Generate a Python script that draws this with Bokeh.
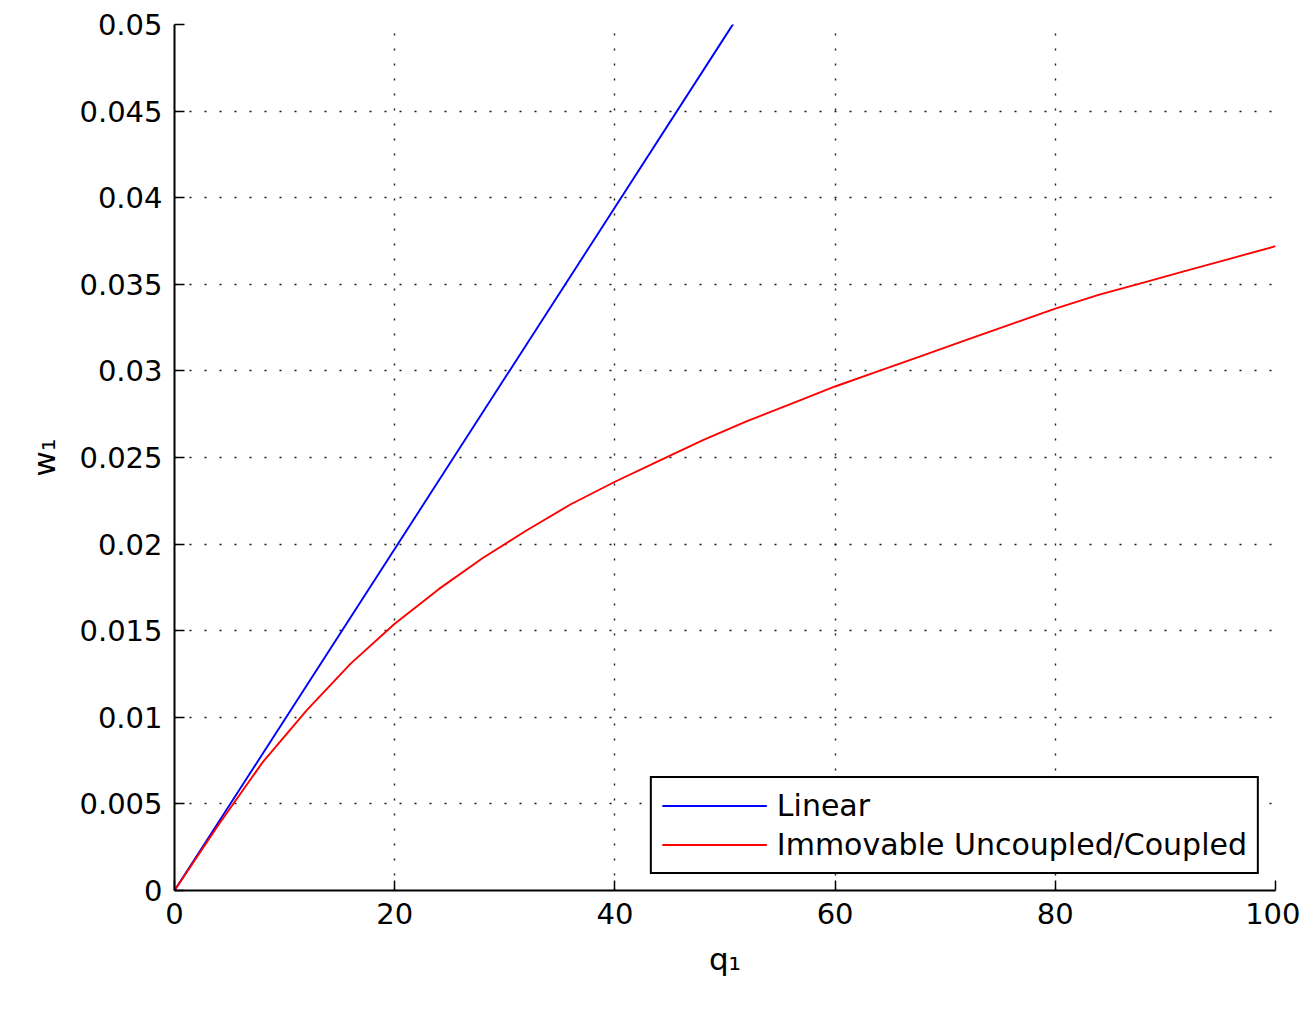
from bokeh.plotting import figure
from bokeh.models import FixedTicker, Range1d, Legend, LegendItem
from bokeh.embed import file_html
from bokeh.resources import INLINE

# ---- data ----
q_linear = [0, 25, 50, 75, 100]
w_linear = [0.0, 0.02465, 0.0493, 0.07395, 0.0986]

q_immovable = [0, 4, 8, 12, 16, 20, 24, 28, 32, 36, 40, 44, 48, 52, 56, 60,
               64, 68, 72, 76, 80, 84, 88, 92, 96, 100]
w_immovable = [0.0, 0.0038, 0.0074, 0.0104, 0.0131, 0.0154, 0.0174, 0.0192,
               0.0208, 0.0223, 0.0236, 0.0248, 0.0260, 0.0271, 0.0281, 0.0291,
               0.0300, 0.0309, 0.0318, 0.0327, 0.0336, 0.0344, 0.0351, 0.0358,
               0.0365, 0.0372]

x_ticks = [0, 20, 40, 60, 80, 100]
x_tick_labels = ["0", "20", "40", "60", "80", "100"]
y_ticks = [0, 0.005, 0.01, 0.015, 0.02, 0.025, 0.03, 0.035, 0.04, 0.045, 0.05]
y_tick_labels = ["0", "0.005", "0.01", "0.015", "0.02", "0.025", "0.03",
                 "0.035", "0.04", "0.045", "0.05"]

series_names = ["Linear", "Immovable Uncoupled/Coupled"]
x_label = "q\u2081"
y_label = "w\u2081"

FONT = "DejaVu Sans"

p = figure(width=1300, height=992, output_backend="svg", toolbar_location=None,
           x_range=Range1d(0, 100), y_range=Range1d(0, 0.05),
           min_border_left=174, min_border_right=25, min_border_top=24,
           min_border_bottom=102)
p.outline_line_color = None
p.background_fill_color = "white"
p.border_fill_color = "white"

r1 = p.line(q_linear, w_linear, line_color="#0000ff", line_width=1.9)
r2 = p.line(q_immovable, w_immovable, line_color="#ff0000", line_width=1.9)

for ax, ticks, labels in ((p.xaxis[0], x_ticks, x_tick_labels),
                          (p.yaxis[0], y_ticks, y_tick_labels)):
    ax.ticker = FixedTicker(ticks=ticks)
    ax.major_label_overrides = {t: l for t, l in zip(ticks, labels)}
    ax.major_tick_in = 10
    ax.major_tick_out = 0
    ax.minor_tick_line_color = None
    ax.axis_line_width = 2
    ax.axis_line_color = "black"
    ax.major_tick_line_width = 1.5
    ax.major_tick_line_color = "black"
    ax.major_label_text_font = FONT
    ax.major_label_text_font_size = "29px"
    ax.major_label_text_color = "black"
    ax.major_label_standoff = 12
    ax.axis_label_text_font = FONT
    ax.axis_label_text_font_size = "31px"
    ax.axis_label_text_font_style = "normal"
    ax.axis_label_text_color = "black"
    ax.axis_label_standoff = 14

p.xaxis[0].axis_label = x_label
p.yaxis[0].axis_label = y_label

for g in (p.xgrid[0], p.ygrid[0]):
    g.grid_line_color = "black"
    g.grid_line_dash = "2 13"
    g.grid_line_width = 1.4
    g.grid_line_alpha = 0.9

legend = Legend(items=[LegendItem(label=series_names[0], renderers=[r1]),
                       LegendItem(label=series_names[1], renderers=[r2])],
                location="bottom_right")
legend.margin = 16
legend.padding = 10
legend.spacing = 4
legend.glyph_width = 105
legend.glyph_height = 35
legend.label_height = 35
legend.label_standoff = 10
legend.label_text_font = FONT
legend.label_text_font_size = "30px"
legend.label_text_color = "black"
legend.border_line_color = "black"
legend.border_line_width = 2
legend.border_line_alpha = 1.0
legend.background_fill_color = "white"
legend.background_fill_alpha = 1.0
p.add_layout(legend, "center")

open("out.html", "w").write(file_html(p, INLINE))
